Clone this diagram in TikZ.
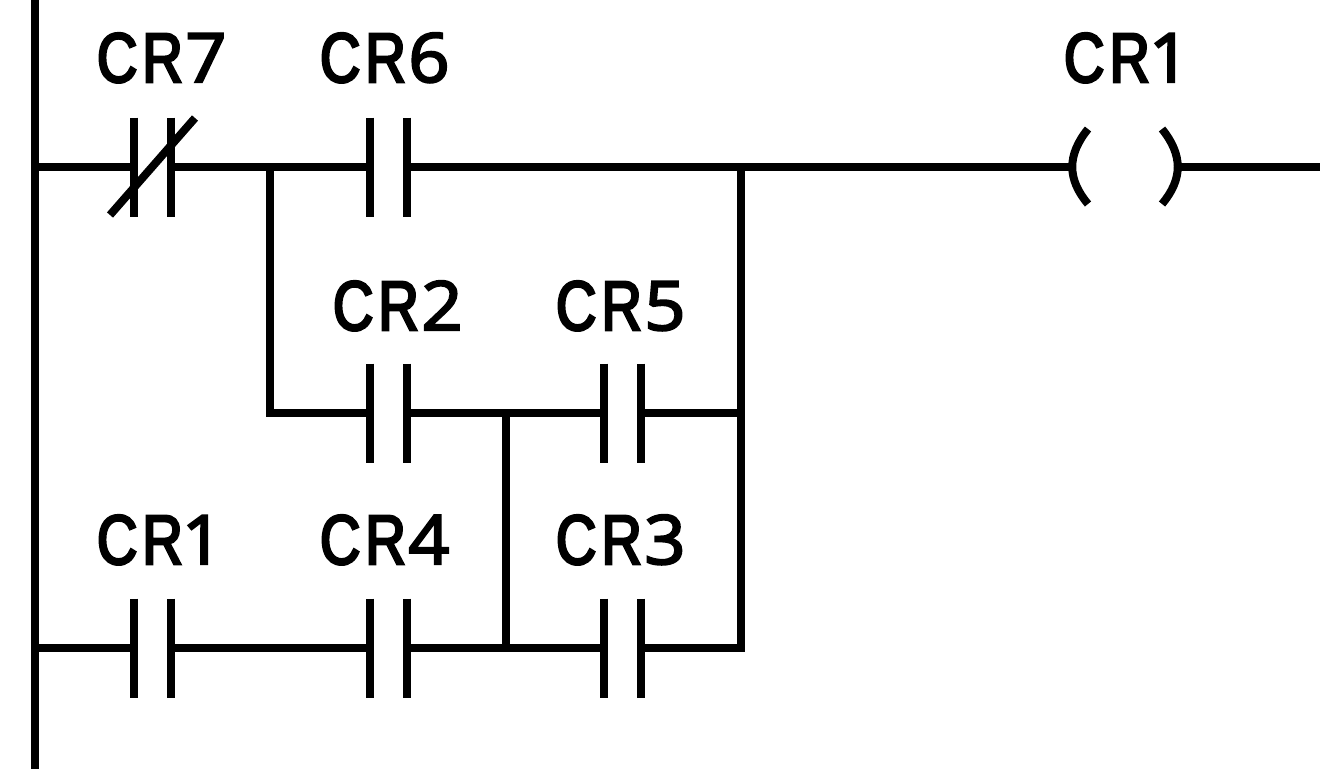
\documentclass[tikz,border=0pt]{standalone}
\usepackage{fontspec}
\newfontfamily\crfont[FakeBold=3.6,FakeStretch=0.8]{Liberation Sans}
\newfontfamily\crdigit[FakeBold=3.2,FakeStretch=1.06,Scale=0.97]{Open Sans}
\newcommand{\crd}[1]{C\kern5pt R\kern2.5pt{\crdigit #1}}
\newcommand{\crone}{C\kern5pt R\kern-1pt{\crdigit 1}}
\tikzset{
  x=1pt,y=-1pt,
  wire/.style={line width=8pt,line cap=butt,line join=miter,black},
  contactbox/.style={rectangle,draw=none,inner sep=0pt,outer sep=0pt,minimum width=37pt,minimum height=99pt},
  coilbox/.style={rectangle,draw=none,inner sep=0pt,outer sep=0pt,minimum width=108pt,minimum height=76pt},
  crlabel/.style={anchor=base west,inner sep=0pt,outer sep=0pt,font=\crfont\fontsize{70}{70}\selectfont,text=black},
}
\newcommand{\contactat}[3]{%
  \node[contactbox] (#1) at (#2,#3) {};
  \draw[wire] (#1.north west) -- (#1.south west);
  \draw[wire] (#1.north east) -- (#1.south east);
}
\begin{document}
\begin{tikzpicture}
\useasboundingbox (0,0) rectangle (1320,769);
% rail
\coordinate (railtop) at (35,0);
\coordinate (railbot) at (35,769);
\draw[wire] (railtop) -- (railbot);
\coordinate (rail1) at (31,167);
\coordinate (rail3) at (31,648);
\coordinate (railend) at (1320,167);
% contacts
\contactat{cseven}{152.5}{167}
\contactat{csix}{388.5}{167}
\contactat{ctwo}{388.5}{413}
\contactat{cfive}{622.5}{413}
\contactat{cone}{152.5}{648}
\contactat{cfour}{388.5}{648}
\contactat{cthree}{622.5}{648}
% slash
\coordinate (slashA) at (110,215);
\coordinate (slashB) at (195,118);
\draw[wire] (slashA) -- (slashB);
% coil
\node[coilbox] (coil) at (1125,167) {};
\draw[wire] (1088,129) .. controls (1067,155) and (1067,179) .. (1088,204);
\draw[wire] (1162,129) .. controls (1183,155) and (1183,179) .. (1162,204);
% junctions
\coordinate (j1) at (270,167);
\coordinate (j2) at (270,413);
\coordinate (j3) at (741,167);
\coordinate (j4) at (741,413);
\coordinate (j5) at (741,648);
\coordinate (j6) at (506,413);
\coordinate (j7) at (506,648);
% wires
\draw[wire] (rail1) -- (cseven.west);
\draw[wire] (cseven.east) -- (csix.west);
\draw[wire] (csix.east) -- (coil.west);
\draw[wire] (coil.east) -- (railend);
\draw[wire] (j1) -- (j2) -- (ctwo.west);
\draw[wire] (ctwo.east) -- (cfive.west);
\draw[wire] (cfive.east) -- (j4);
\draw[wire] (j3) -- (j5) -- (cthree.east);
\draw[wire] (j6) -- (j7);
\draw[wire] (rail3) -- (cone.west);
\draw[wire] (cone.east) -- (cfour.west);
\draw[wire] (cfour.east) -- (cthree.west);
% labels
\node[crlabel] (lseven) at (97,82) {\crd{7}};
\node[crlabel] (lsix) at (320,82) {\crd{6}};
\node[crlabel] (ltwo) at (333,330) {\crd{2}};
\node[crlabel] (lfive) at (556,330) {\crd{5}};
\node[crlabel] (lone) at (97,564) {\crone};
\node[crlabel] (lfour) at (320,564) {\crd{4}};
\node[crlabel] (lthree) at (556,564) {\crd{3}};
\node[crlabel] (lcoil) at (1064,82) {\crone};
\end{tikzpicture}
\end{document}
